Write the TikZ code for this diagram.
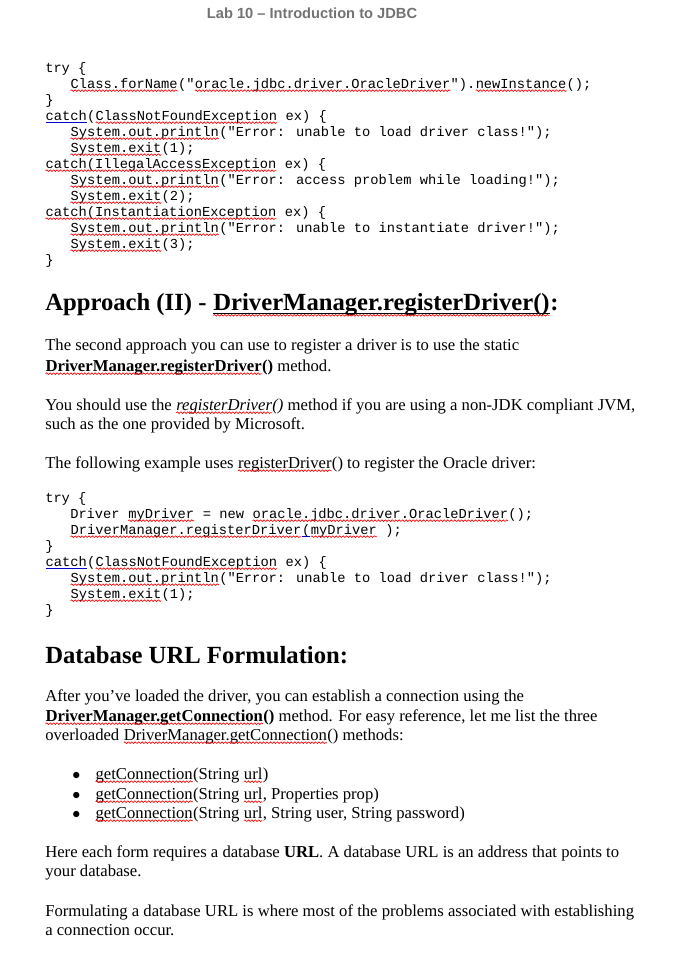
\documentclass[tikz,border=0pt]{standalone}
\usepackage{fontspec}
\usetikzlibrary{decorations.pathmorphing}
\setmainfont{Liberation Serif}
\newfontfamily\cf{Liberation Mono}
\newfontfamily\hf{Liberation Sans}
\newcommand\rw[1]{\tikz[baseline=(w.base)]{\node[inner sep=0pt,outer sep=0pt,anchor=base](w){#1};\draw[red,line width=0.5pt,decorate,decoration={snake,amplitude=0.6pt,segment length=2.6pt}] ([yshift=-2pt]w.base west)--([yshift=-2pt]w.base east);}}
\newcommand\bl[1]{\tikz[baseline=(w.base)]{\node[inner sep=0pt,outer sep=0pt,anchor=base](w){#1};\draw[blue!80!black,line width=0.5pt] ([yshift=-2pt]w.base west)--([yshift=-2pt]w.base east);}}
\newcommand\ul[1]{\tikz[baseline=(w.base)]{\node[inner sep=0pt,outer sep=0pt,anchor=base](w){#1};\draw[line width=1pt] ([yshift=-2.5pt]w.base west)--([yshift=-2.5pt]w.base east);\draw[red,line width=0.5pt,decorate,decoration={snake,amplitude=0.6pt,segment length=2.6pt}] ([yshift=-4pt]w.base west)--([yshift=-4pt]w.base east);}}
\tikzset{code/.style={anchor=base west,inner sep=0pt,font=\cf\fontsize{10.3}{12}\selectfont},
 body/.style={anchor=base west,inner sep=0pt,font=\fontsize{12.5}{14}\selectfont},
 head/.style={anchor=base west,inner sep=0pt,font=\bfseries\fontsize{18.5}{22}\selectfont}}
\begin{document}
\begin{tikzpicture}[x=0.75pt,y=-0.75pt]
\useasboundingbox[fill=white] (0,0) rectangle (690,953);
\node[anchor=base,inner sep=0pt,font=\hf\bfseries\fontsize{11}{13}\selectfont,text=black!55] (hd) at (312,18) {Lab 10 – Introduction to JDBC};
% code block 1
\node[code] (c1) at (45,72) {try \{};
\node[code] (c2) at (70,88) {\rw{Class.forName}("\rw{oracle.jdbc.driver.OracleDriver}").\rw{newInstance}();};
\node[code] (c3) at (45,104) {\}};
\node[code] (c4) at (45,120) {\bl{catch}(\rw{ClassNotFoundException} ex) \{};
\node[code] (c5) at (70,136) {\rw{System.out.println}("Error: unable to load driver class!");};
\node[code] (c6) at (70,152) {\rw{System.exit}(1);};
\node[code] (c7) at (45,168) {\rw{catch(IllegalAccessException} ex) \{};
\node[code] (c8) at (70,184) {\rw{System.out.println}("Error: access problem while loading!");};
\node[code] (c9) at (70,200) {\rw{System.exit}(2);};
\node[code] (c10) at (45,216) {\rw{catch(InstantiationException} ex) \{};
\node[code] (c11) at (70,232) {\rw{System.out.println}("Error: unable to instantiate driver!");};
\node[code] (c12) at (70,248) {\rw{System.exit}(3);};
\node[code] (c13) at (45,264) {\}};
% heading
\node[head] (h1) at (45,310) {Approach (II) - \ul{DriverManager.registerDriver()}:};
\node[body] (p1) at (45,350) {The second approach you can use to register a driver is to use the static};
\node[body] (p2) at (45,371) {\rw{\textbf{DriverManager.registerDriver}}\textbf{()} method.};
\node[body] (p3) at (45,410) {You should use the \rw{\textit{registerDriver}}\textit{()} method if you are using a non-JDK compliant JVM,};
\node[body] (p4) at (45,429) {such as the one provided by Microsoft.};
\node[body] (p5) at (45,468) {The following example uses \rw{registerDriver}() to register the Oracle driver:};
% code block 2
\node[code] (d1) at (45,502) {try \{};
\node[code] (d2) at (70,518) {Driver \rw{myDriver} = new \rw{oracle.jdbc.driver.OracleDriver}();};
\node[code] (d3) at (70,534) {\rw{DriverManager.registerDriver}\bl{(\ }\rw{myDriver} );};
\node[code] (d4) at (45,550) {\}};
\node[code] (d5) at (45,566) {\bl{catch}(\rw{ClassNotFoundException} ex) \{};
\node[code] (d6) at (70,582) {\rw{System.out.println}("Error: unable to load driver class!");};
\node[code] (d7) at (70,598) {\rw{System.exit}(1);};
\node[code] (d8) at (45,614) {\}};
\node[head] (h2) at (45,663) {Database URL Formulation:};
\node[body] (q1) at (45,701) {After you've loaded the driver, you can establish a connection using the};
\node[body] (q2) at (45,721) {\rw{\textbf{DriverManager.getConnection}}\textbf{()} method. For easy reference, let me list the three};
\node[body] (q3) at (45,740) {overloaded \rw{DriverManager.getConnection}() methods:};
\foreach \y/\n in {779/b1,799/b2,818/b3} \node[body] (\n) at (72,\y) {$\bullet$};
\node[body] (t1) at (95,779) {\rw{getConnection}(String \rw{url})};
\node[body] (t2) at (95,799) {\rw{getConnection}(String \rw{url}, Properties prop)};
\node[body] (t3) at (95,818) {\rw{getConnection}(String \rw{url}, String user, String password)};
\node[body] (r1) at (45,857) {Here each form requires a database \textbf{URL}. A database URL is an address that points to};
\node[body] (r2) at (45,876) {your database.};
\node[body] (s1) at (45,916) {Formulating a database URL is where most of the problems associated with establishing};
\node[body] (s2) at (45,935) {a connection occur.};
\end{tikzpicture}
\end{document}
